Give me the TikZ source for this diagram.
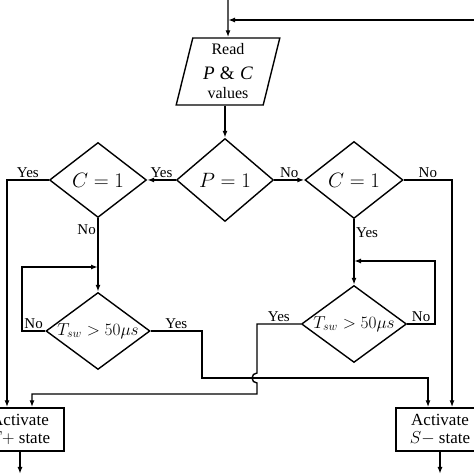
\documentclass[tikz,border=0pt]{standalone}
\usepackage{fontspec}
\setmainfont{Liberation Serif}
\usetikzlibrary{arrows.meta, shapes.geometric, positioning}
\tikzset{decisionnode/.style={diamond, draw=black, line width=1.4pt, inner sep=0pt, font=\fontsize{20}{23}\selectfont},
iobox/.style={trapezium, trapezium left angle=78, trapezium right angle=102, trapezium stretches=true, draw=black, line width=1.4pt, inner sep=0pt, minimum width=104pt, minimum height=67pt, align=center, font=\fontsize{16}{19}\selectfont},
statebox/.style={rectangle, draw=black, line width=1.4pt, minimum width=88pt, minimum height=43pt, inner sep=0pt, align=center, font=\fontsize{17}{18}\selectfont},
flowarrow/.style={-{Latex[length=7pt, width=5pt]}, line width=1.4pt},
flowlabel/.style={font=\fontsize{15}{17}\selectfont, inner sep=1.5pt},
timerlabel/.style={font=\fontsize{18}{21}\selectfont, inner sep=0pt}}

\begin{document}
\begin{tikzpicture}
                \useasboundingbox (0pt, 0pt) rectangle (474pt, 474pt);

                % Nodes
                \node[iobox] (readpc) at (228pt, 402.5pt) {Read\\[6pt]{\fontsize{19}{22}\selectfont\textit{P}\;\&\;\textit{C}}\\[0pt]values};
                \node[decisionnode, minimum width=97pt, minimum height=83pt] (pcheck) at (225pt, 294pt) {$P=1$};
                \node[decisionnode, minimum width=97pt, minimum height=75pt] (cleft) at (98pt, 294pt) {$C=1$};
                \node[decisionnode, minimum width=98pt, minimum height=77pt] (cright) at (354pt, 294pt) {$C=1$};
                \node[decisionnode, minimum width=104pt, minimum height=77pt, label={[timerlabel]center:$T_{sw} > 50\mu s$}] (tleft) at (98pt, 143pt) {};
                \node[decisionnode, minimum width=105pt, minimum height=77pt, label={[timerlabel]center:$T_{sw} > 50\mu s$}] (tright) at (354pt, 150pt) {};
                \node[statebox] (tplus) at (20pt, 44.5pt) {Activate\\$T+$ state};
                \node[statebox] (sstate) at (440pt, 44.5pt) {Activate\\$S-$ state};

                % Helper points
                \coordinate (start) at (228pt, 474pt);
                \coordinate (feedback) at (474pt, 454pt);
                \coordinate (leftloop) at (22pt, 207pt);
                \coordinate (rightloop) at (435pt, 213pt);
                \coordinate (leftjog) at (202pt, 96pt);
                \coordinate (rightjog) at (257pt, 80pt);
                \coordinate (tin1) at ([xshift=-13pt]tplus.north);
                \coordinate (tin2) at ([xshift=12pt]tplus.north);
                \coordinate (sin1) at ([xshift=-12pt]sstate.north);
                \coordinate (sin2) at ([xshift=12pt]sstate.north);

                % Connectors
                \draw[flowarrow] (start) -- (readpc.north);
                \draw[flowarrow] (feedback) -- (feedback -| readpc.north);
                \draw[flowarrow] (pcheck.north |- readpc.south) -- (pcheck.north);
                \draw[flowarrow] (pcheck.west) -- node[flowlabel, above] {Yes} (cleft.east);
                \draw[flowarrow] (pcheck.east) -- node[flowlabel, above] {No} (cright.west);

                \draw[flowarrow] (cleft.west) -- node[flowlabel, above] {Yes} (cleft.west -| tin1) -- (tin1);
                \draw[flowarrow] (cleft.south) -- node[flowlabel, pos=0.15, left] {No} (tleft.north);
                \draw[flowarrow] (tleft.west) -- node[flowlabel, above] {No} (tleft.west -| leftloop) -- (leftloop) -- (leftloop -| tleft.north);
                \draw[flowarrow] (tleft.east) -- node[flowlabel, above] {Yes} (tleft.east -| leftjog) -- (leftjog) -| (sin1);

                \draw[flowarrow] (cright.east) -- node[flowlabel, above] {No} (cright.east -| sin2) -- (sin2);
                \draw[flowarrow] (cright.south) -- node[flowlabel, pos=0.2, right] {Yes} (tright.north);
                \draw[flowarrow] (tright.east) -- node[flowlabel, above] {No} (tright.east -| rightloop) -- (rightloop) -- (rightloop -| tright.north);
                \draw[flowarrow] (tright.west) -- node[flowlabel, above] {Yes} (tright.west -| rightjog) -- (257pt, 101pt) arc (90:270:5pt) -- (rightjog) -| (tin2);

                % Outputs
                \draw[flowarrow] (tplus.south) -- (tplus.south |- 0pt, 0pt);
                \draw[flowarrow] (sstate.south) -- (sstate.south |- 0pt, 0pt);
            \end{tikzpicture}
\end{document}
